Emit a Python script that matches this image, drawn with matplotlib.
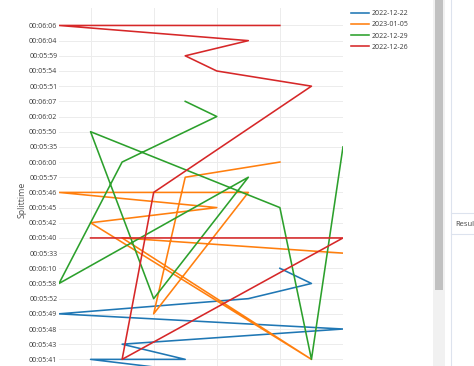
import matplotlib
matplotlib.use("Agg")
import matplotlib.pyplot as plt
from matplotlib.patches import Rectangle
from matplotlib.lines import Line2D

plt.rcParams['font.family'] = ['Open Sans', 'DejaVu Sans']

# splittime per lap, each date sorted by time (ascending)
laps_1222 = [4, 6, 2, 5, 3, 10, 1, 7, 9, 8]
time_1222 = ["00:05:39", "00:05:39", "00:05:41", "00:05:41", "00:05:43",
             "00:05:48", "00:05:49", "00:05:52", "00:05:58", "00:06:10"]

laps_0105 = [10, 3, 9, 2, 6, 1, 7, 4, 5, 8]
time_0105 = ["00:05:33", "00:05:40", "00:05:41", "00:05:42", "00:05:45",
             "00:05:46", "00:05:46", "00:05:49", "00:05:57", "00:06:00"]

laps_1229 = [10, 9, 8, 2, 4, 7, 1, 3, 6, 5]
time_1229 = ["00:05:35", "00:05:41", "00:05:45", "00:05:50", "00:05:52",
             "00:05:57", "00:05:58", "00:06:00", "00:06:02", "00:06:07"]

laps_1226 = [2, 10, 3, 4, 9, 6, 5, 7, 1, 8]
time_1226 = ["00:05:40", "00:05:40", "00:05:41", "00:05:46", "00:05:51",
             "00:05:54", "00:05:59", "00:06:04", "00:06:06", "00:06:06"]

dates = ["2022-12-22", "2023-01-05", "2022-12-29", "2022-12-26"]
colors = ["#1f77b4", "#ff7f0e", "#2ca02c", "#d62728"]
series = [(laps_1222, time_1222), (laps_0105, time_0105),
          (laps_1229, time_1229), (laps_1226, time_1226)]

W, H = 474, 366
fig = plt.figure(figsize=(W / 100, H / 100), dpi=100)

# axes runs past the bottom edge, like the cropped screenshot
left, right, top, bottom = 59, 343, 8, 392
ax = fig.add_axes([left / W, 1 - bottom / H, (right - left) / W, (bottom - top) / H])

for (x, y), lab, c in zip(series, dates, colors):
    ax.plot(x, y, color=c, lw=1.15, label=lab)

ncat = len(ax.yaxis.get_major_locator()())
ax.set_ylim(-1.15, ncat - 1 + 1.15)
ax.set_xlim(1, 10)
ax.set_xticks([2, 4, 6, 8, 10])
ax.grid(True, color="#ececec", lw=0.7)
ax.set_axisbelow(True)
for s in ax.spines.values():
    s.set_visible(False)
ax.tick_params(axis='y', length=0, pad=1.2, labelsize=5.0, labelcolor="#3a3a3a")
ax.tick_params(axis='x', length=0, labelbottom=False)
ax.set_ylabel("Splittime", fontsize=6.3, color="#555555", labelpad=2)

handles = [Line2D([], [], color=c, lw=1.15) for c in colors]
fig.legend(handles, dates, loc='upper left', bbox_to_anchor=(351 / W, 1 - 10 / H),
           frameon=False, fontsize=5, handlelength=2.6, handletextpad=0.35,
           labelspacing=0.62, borderpad=0, borderaxespad=0, labelcolor="#3a3a3a")

# bits of the surrounding window in the screenshot
fig.patches.append(Rectangle((433 / W, 0), 12 / W, 1, transform=fig.transFigure,
                             facecolor="#f1f1f1", edgecolor="none"))
fig.patches.append(Rectangle((435 / W, 1 - 290 / H), 8 / W, 290 / H,
                             transform=fig.transFigure, facecolor="#c1c1c1",
                             edgecolor="none"))
fig.add_artist(Line2D([451 / W, 451 / W], [0, 1], transform=fig.transFigure,
                      color="#dde3ee", lw=0.8))
fig.add_artist(Line2D([451 / W, 1], [1 - 213 / H, 1 - 213 / H],
                      transform=fig.transFigure, color="#dde3ee", lw=0.8))
fig.add_artist(Line2D([451 / W, 1], [1 - 234 / H, 1 - 234 / H],
                      transform=fig.transFigure, color="#dde3ee", lw=0.8))
fig.text(455 / W, 1 - 224 / H, "Resul", fontsize=5.5, color="#444444", va='center')

fig.savefig("out.png", dpi=100)
